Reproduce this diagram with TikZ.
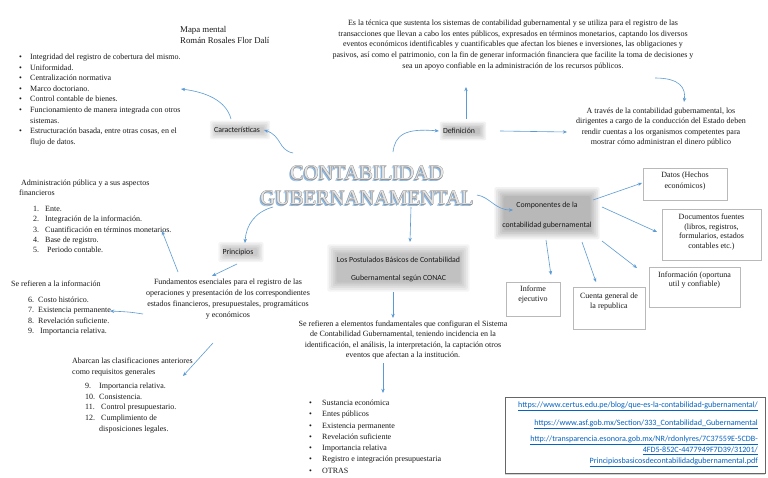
\documentclass[tikz,border=0pt]{standalone}
\usepackage{fontspec}
\setmainfont{Liberation Serif}
\newfontfamily\calfont{Carlito}
\usetikzlibrary{arrows.meta,shadows,calc}
\pgfdeclarelayer{background}
\pgfsetlayers{background,main}
\definecolor{arrowblue}{RGB}{91,155,213}
\definecolor{linkblue}{RGB}{5,99,193}
\definecolor{tblue}{RGB}{140,185,228}
\definecolor{tgray}{RGB}{145,145,145}
\definecolor{tlight}{RGB}{228,228,228}
\definecolor{textcol}{RGB}{25,25,25}
\newcommand\txtsize[1]{\fontsize{8}{#1}\selectfont}
\newcommand\ttlword[1]{%
 \leavevmode
 \rlap{\kern-1.5pt\raisebox{-1.3pt}{\textcolor{tblue}{#1}}}%
 \rlap{\kern-1.0pt\raisebox{-0.8pt}{\textcolor{tblue}{#1}}}%
 \rlap{\kern0.38pt\textcolor{tgray}{#1}}%
 \rlap{\kern-0.38pt\textcolor{tgray}{#1}}%
 \rlap{\raisebox{0.38pt}{\textcolor{tgray}{#1}}}%
 \rlap{\raisebox{-0.38pt}{\textcolor{tgray}{#1}}}%
 \textcolor{tlight}{#1}}
% soft glow: node, xshift, first step, last step, step size, opacity
\newcommand\softglow[6]{%
  \foreach \k in {#3,...,#4}{%
    \fill[black, opacity=#6, rounded corners=2pt]
      ($(#1.south west)+({#2-\k*#5},{\k*#5})$) rectangle ($(#1.north east)+({#2+\k*#5},{-\k*#5})$);
  }}
\begin{document}
\begin{tikzpicture}[x=1pt,y=-1pt,
  txt/.style={inner sep=0pt, text=textcol},
  lbl/.style={font=\calfont\fontsize{7.8}{9}\selectfont, inner xsep=4pt, inner ysep=3.5pt, text=textcol},
  graybox/.style={inner sep=0pt, text=textcol},
  framebox/.style={draw=gray!55, line width=0.5pt, fill=white,
     drop shadow={shadow xshift=0.8pt, shadow yshift=-0.8pt, opacity=0.25}},
  arr/.style={draw=arrowblue, line width=0.6pt, -{Stealth[length=4.2pt,width=3.4pt]}}]
\useasboundingbox (0,0) rectangle (768,478);
\begin{pgfonlayer}{background}
\fill[white] (0,0) rectangle (768,478);
\end{pgfonlayer}

% ---------- title ----------
\node[txt, anchor=north, font=\fontsize{20.6}{25}\selectfont] (title) at (367,162.3)
  {\begin{tabular}{@{}c@{}}\ttlword{CONTABILIDAD}\\\ttlword{GUBERNANAMENTAL}\end{tabular}};

% ---------- top left ----------
\node[txt, anchor=north west, font=\fontsize{8.8}{11}\selectfont] (mapa) at (180,24.9)
  {\begin{tabular}{@{}l@{}}Mapa mental\\Román Rosales Flor Dalí\end{tabular}};

\node[txt, anchor=north west, font=\txtsize{10.6}] (lista) at (19,51.8)
  {\begin{tabular}{@{}l@{}l@{}}
  \makebox[11pt][l]{\textbullet}&Integridad del registro de cobertura del mismo.\\
  \makebox[11pt][l]{\textbullet}&Uniformidad.\\
  \makebox[11pt][l]{\textbullet}&Centralización normativa\\
  \makebox[11pt][l]{\textbullet}&Marco doctoriano.\\
  \makebox[11pt][l]{\textbullet}&Control contable de bienes.\\
  \makebox[11pt][l]{\textbullet}&Funcionamiento de manera integrada con otros\\
  &sistemas.\\
  \makebox[11pt][l]{\textbullet}&Estructuración basada, entre otras cosas, en el\\
  &flujo de datos.
  \end{tabular}};

\node[lbl] (carac) at (237,130) {Características};

% ---------- top middle / right ----------
\node[txt, anchor=north, font=\txtsize{10.7}] (defitxt) at (513,17.7)
  {\begin{tabular}{@{}c@{}}
  Es la técnica que sustenta los sistemas de contabilidad gubernamental y se utiliza para el registro de las\\
  transacciones que llevan a cabo los entes públicos, expresados en términos monetarios, captando los diversos\\
  eventos económicos identificables y cuantificables que afectan los bienes e inversiones, las obligaciones y\\
  pasivos, así como el patrimonio, con la fin de generar información financiera que facilite la toma de decisiones y\\
  sea un apoyo confiable en la administración de los recursos públicos.
  \end{tabular}};

\node[lbl] (defin) at (459,131) {Definición};

\node[txt, anchor=north, font=\txtsize{10.3}] (rendir) at (661,106)
  {\begin{tabular}{@{}c@{}}
  A través de la contabilidad gubernamental, los\\
  dirigentes a cargo de la conducción del Estado deben\\
  rendir cuentas a los organismos competentes para\\
  mostrar cómo administran el dinero público
  \end{tabular}};

% ---------- components ----------
\node[graybox, minimum width=94pt, minimum height=41pt, font=\calfont\fontsize{7.8}{20}\selectfont] (compon) at (547,213.2)
  {\begin{tabular}{@{}c@{}}Componentes de la\\contabilidad gubernamental\end{tabular}};

\node[framebox, minimum width=84pt, minimum height=32pt, anchor=north west] (datos) at (643,168) {};
\node[txt, anchor=north, font=\txtsize{11}] (datostxt) at (685,169.5)
  {\begin{tabular}{@{}c@{}}Datos (Hechos\\económicos)\end{tabular}};

\node[framebox, minimum width=99pt, minimum height=51pt, anchor=north west] (docum) at (662,209) {};
\node[txt, anchor=north, font=\txtsize{9.7}] (documtxt) at (711.5,212.4)
  {\begin{tabular}{@{}c@{}}Documentos fuentes\\(libros, registros,\\formularios, estados\\contables etc.)\end{tabular}};

\node[framebox, minimum width=91pt, minimum height=40pt, anchor=north west] (info) at (649,267) {};
\node[txt, anchor=north, font=\txtsize{9.5}] (infotxt) at (694.5,270.6)
  {\begin{tabular}{@{}c@{}}Información (oportuna\\util y confiable)\end{tabular}};

\node[framebox, minimum width=72pt, minimum height=42pt, anchor=north west] (cuenta) at (573,287) {};
\node[txt, anchor=north, font=\txtsize{10}] (cuentatxt) at (609,291.2)
  {\begin{tabular}{@{}c@{}}Cuenta general de\\la republica\end{tabular}};

\node[framebox, minimum width=54pt, minimum height=34pt, anchor=north west] (inform) at (506,282) {};
\node[txt, anchor=north, font=\txtsize{10}] (informtxt) at (533,284.2)
  {\begin{tabular}{@{}c@{}}Informe\\ejecutivo\end{tabular}};

% ---------- postulados ----------
\node[graybox, minimum width=131pt, minimum height=34pt, font=\calfont\fontsize{7.8}{18}\selectfont] (postul) at (398.5,268)
  {\begin{tabular}{@{}c@{}}Los Postulados Básicos de Contabilidad\\Gubernamental según CONAC\end{tabular}};

\node[txt, anchor=north, font=\txtsize{10.5}] (serefel) at (403,318.9)
  {\begin{tabular}{@{}c@{}}
  Se refieren a elementos fundamentales que configuran el Sistema\\
  de Contabilidad Gubernamental, teniendo incidencia en la\\
  identificación, el análisis, la interpretación, la captación otros\\
  eventos que afectan a la institución.
  \end{tabular}};

\node[txt, anchor=north west, font=\txtsize{11.3}] (listab) at (309,397.3)
  {\begin{tabular}{@{}l@{}l@{}}
  \makebox[13pt][l]{\textbullet}&Sustancia económica\\
  \makebox[13pt][l]{\textbullet}&Entes públicos\\
  \makebox[13pt][l]{\textbullet}&Existencia permanente\\
  \makebox[13pt][l]{\textbullet}&Revelación suficiente\\
  \makebox[13pt][l]{\textbullet}&Importancia relativa\\
  \makebox[13pt][l]{\textbullet}&Registro e integración presupuestaria\\
  \makebox[13pt][l]{\textbullet}&OTRAS
  \end{tabular}};

% ---------- left / principios ----------
\node[txt, anchor=north west, font=\txtsize{10}] (admin) at (19,178.2)
  {\begin{tabular}{@{}l@{}}\hspace{2pt}Administración pública y a sus aspectos\\financieros\end{tabular}};

\node[txt, anchor=north west, font=\txtsize{10.3}] (nums1) at (33,204)
  {\begin{tabular}{@{}l@{}l@{}}
  \makebox[12pt][l]{1.}&Ente.\\
  \makebox[12pt][l]{2.}&Integración de la información.\\
  \makebox[12pt][l]{3.}&Cuantificación en términos monetarios.\\
  \makebox[12pt][l]{4.}&Base de registro.\\
  \makebox[12pt][l]{5.}&\hspace{2pt}Periodo contable.
  \end{tabular}};

\node[lbl] (princ) at (238,252) {Principios};

\node[txt, anchor=north, font=\txtsize{11}] (fundam) at (228,276.5)
  {\begin{tabular}{@{}c@{}}
  Fundamentos esenciales para el registro de las\\
  operaciones y presentación de los correspondientes\\
  estados financieros, presupuestales, programáticos\\
  y económicos
  \end{tabular}};

\node[txt, anchor=north west, font=\txtsize{11}] (serefinf) at (11,278.5)
  {\begin{tabular}{@{}l@{}}Se refieren a la información\end{tabular}};

\node[txt, anchor=north west, font=\txtsize{10.3}] (nums2) at (28,295)
  {\begin{tabular}{@{}l@{}l@{}}
  \makebox[10pt][l]{6.}&Costo histórico.\\
  \makebox[10pt][l]{7.}&Existencia permanente\\
  \makebox[10pt][l]{8.}&Revelación suficiente.\\
  \makebox[10pt][l]{9.}&\hspace{2pt}Importancia relativa.
  \end{tabular}};

\node[txt, anchor=north west, font=\txtsize{11}] (abarcan) at (72,356)
  {\begin{tabular}{@{}l@{}}Abarcan las clasificaciones anteriores\\como requisitos generales\end{tabular}};

\node[txt, anchor=north west, font=\txtsize{10.7}] (nums3) at (85,380.7)
  {\begin{tabular}{@{}l@{}l@{}}
  \makebox[14pt][l]{9.}&Importancia relativa.\\
  \makebox[14pt][l]{10.}&Consistencia.\\
  \makebox[14pt][l]{11.}&\hspace{2pt}Control presupuestario.\\
  \makebox[14pt][l]{12.}&\hspace{2pt}Cumplimiento de\\
  &disposiciones legales.
  \end{tabular}};

% ---------- links ----------
\node[draw=black!60, line width=0.6pt, fill=white, minimum width=260pt, minimum height=76pt, anchor=north west,
  drop shadow={shadow xshift=0pt, shadow yshift=-1.2pt, opacity=0.35}] (refs) at (505,397) {};
\node[inner sep=0pt, anchor=north east, text=linkblue, font=\calfont\fontsize{8.1}{11}\selectfont] (refstxt) at (758,399.5)
  {\begin{tabular}{@{}r@{}}
  \underline{https://www.certus.edu.pe/blog/que-es-la-contabilidad-gubernamental/}\\[7pt]
  \underline{https://www.asf.gob.mx/Section/333\_Contabilidad\_Gubernamental}\\[5pt]
  \underline{http://transparencia.esonora.gob.mx/NR/rdonlyres/7C37559E-5CDB-}\\
  \underline{4FD5-852C-4477949F7D39/31201/}\\
  \underline{Principiosbasicosdecontabilidadgubernamental.pdf}
  \end{tabular}};

% ---------- soft grey backgrounds ----------
\begin{pgfonlayer}{background}
  \softglow{carac}{3}{-2}{2}{1.5}{0.045}
  \softglow{defin}{4}{-2}{2}{1.5}{0.05}
  \softglow{princ}{3}{-2}{2}{1.5}{0.045}
  \softglow{compon}{0}{-2}{3}{1.8}{0.05}
  \softglow{postul}{0}{-2}{3}{1.8}{0.045}
\end{pgfonlayer}

% ---------- connector end points ----------
\coordinate (t1) at (293,153);
\coordinate (t2) at (393,152);
\coordinate (t3) at (477,195);
\coordinate (t4) at (411,207);
\coordinate (t5) at (273,207);
\coordinate (cu) at (231,119);
\coordinate (lm) at (181,89);
\coordinate (dn) at (466,119);
\coordinate (dup) at (466,87);
\coordinate (de) at (500,131);
\coordinate (rw) at (567,132);
\coordinate (tc) at (655,78);
\coordinate (rt) at (684,102);
\coordinate (cin) at (513,210);
\coordinate (c1) at (593,200);  \coordinate (e1) at (642,183);
\coordinate (c2) at (602,207);  \coordinate (e2) at (657,232);
\coordinate (c3) at (602,241);  \coordinate (e3) at (637,268);
\coordinate (c4) at (582,242);  \coordinate (e4) at (596,282);
\coordinate (c5) at (546,240);  \coordinate (e5) at (551,275);
\coordinate (pin) at (410,242);
\coordinate (pout) at (393,292);
\coordinate (sin) at (393,318);
\coordinate (sout) at (383,363);
\coordinate (lin) at (383,393);
\coordinate (prin) at (245,243);
\coordinate (prout) at (237,264);
\coordinate (fin) at (212,276);
\coordinate (fup) at (178,272);
\coordinate (numend) at (162,231);
\coordinate (fleft) at (143,314);
\coordinate (exend) at (110,311);
\coordinate (fdown) at (213,343);
\coordinate (abend) at (183,376);

% ---------- connectors ----------
\draw[arr] (t1) .. controls (278,150) and (282,136) .. (carac.east);
\draw[arr] (cu) .. controls (226,100) and (205,92) .. (lm);
\draw[arr] (t2) .. controls (395,135) and (405,128) .. (defin.west);
\draw[arr] (dn) -- (dup);
\draw[arr] (de) -- (rw);
\draw[arr] (tc) .. controls (680,78) and (686,88) .. (rt);
\draw[arr] (t3) .. controls (490,197) and (495,210) .. (cin);
\draw[arr] (c1) -- (e1);
\draw[arr] (c2) -- (e2);
\draw[arr] (c3) -- (e3);
\draw[arr] (c4) -- (e4);
\draw[arr] (c5) -- (e5);
\draw[arr] (t4) -- (pin);
\draw[arr] (pout) -- (sin);
\draw[arr] (sout) -- (lin);
\draw[arr] (t5) .. controls (255,212) and (246,225) .. (prin);
\draw[arr] (prout) -- (fin);
\draw[arr] (fup) -- (numend);
\draw[arr] (fleft) .. controls (130,312) .. (exend);
\draw[arr] (fdown) -- (abend);
\end{tikzpicture}
\end{document}
